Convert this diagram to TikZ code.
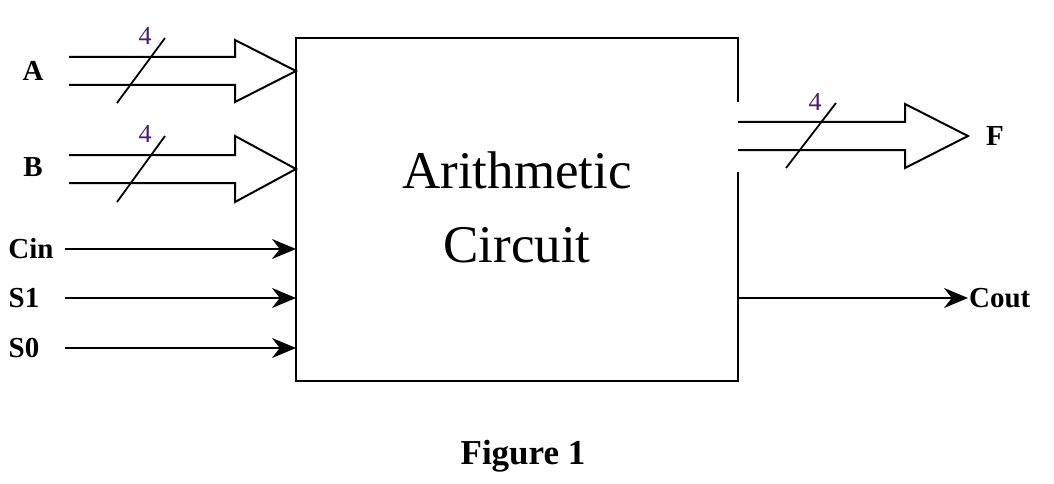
\documentclass[tikz,border=0pt]{standalone}
\usepackage{fontspec}
\setmainfont{Liberation Serif}
\usetikzlibrary{arrows.meta}
\definecolor{num}{RGB}{70,30,110}
\begin{document}
\begin{tikzpicture}[x=1pt,y=-1pt,line width=2.2pt,
  lbl/.style={font=\fontsize{29}{31}\selectfont\bfseries},
  num4/.style={font=\fontsize{26}{28}\selectfont,text=num},
  sig/.style={-{Stealth[length=24pt,width=20pt]}},
  bus/.style={line width=2pt,line join=miter}]
\useasboundingbox (0,0) rectangle (1054,484);
\draw[line width=2.4pt] (738,102)--(738,38)--(296,38)--(296,381)--(738,381)--(738,172);
\node[font=\fontsize{53}{56}\selectfont] (t1) at (517,170) {Arithmetic};
\node[font=\fontsize{53}{56}\selectfont] (t2) at (517,245) {Circuit};
% A bus
\draw[bus] (69,57)--(235,57)--(235,40)--(296,71)--(235,102)--(235,85)--(69,85);
\draw[line width=1.8pt] (117,103)--(165,38);
\node[num4] (n1) at (145,36) {4};
\node[lbl] (A) at (33,71) {A};
% B bus
\draw[bus] (69,155)--(235,155)--(235,136)--(296,169)--(235,202)--(235,183)--(69,183);
\draw[line width=1.8pt] (117,202)--(165,136);
\node[num4] (n2) at (145,134) {4};
\node[lbl] (B) at (33,167) {B};
% F bus
\draw[bus] (738,122)--(905,122)--(905,104)--(968,136)--(905,168)--(905,150)--(738,150);
\draw[line width=1.8pt] (786,168)--(836,103);
\node[num4] (n3) at (815,102) {4};
\node[lbl] (F) at (995,136) {F};
% control signals
\node[lbl] (cin) at (31,249) {Cin};
\node[lbl] (s1) at (24,298) {S1};
\node[lbl] (s0) at (24,348) {S0};
\coordinate (cine) at (296,249);
\coordinate (s1e) at (296,298);
\coordinate (s0e) at (296,348);
\draw[sig] (65,249)--(cine);
\draw[sig] (65,298)--(s1e);
\draw[sig] (65,348)--(s0e);
\node[lbl,anchor=west,inner sep=0pt] (cout) at (968,298) {Cout};
\coordinate (couts) at (738,298);
\draw[sig] (couts)--(cout.west);
\node[font=\fontsize{35}{38}\selectfont\bfseries] (fig) at (523,456) {Figure 1};
\end{tikzpicture}
\end{document}
